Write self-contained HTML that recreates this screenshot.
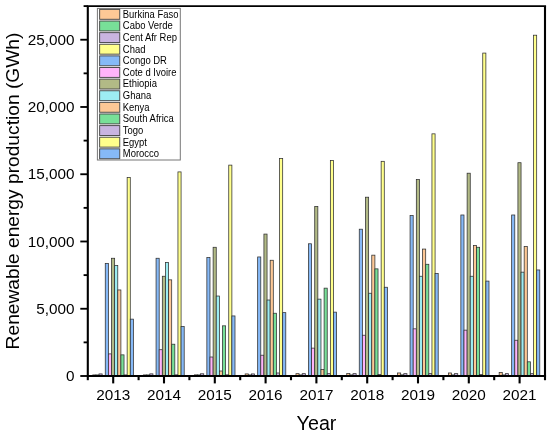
<!DOCTYPE html>
<html lang="en"><head><meta charset="utf-8"><title>Renewable energy production</title>
<style>html,body{margin:0;padding:0;background:#fff}body{width:550px;height:436px;overflow:hidden}svg{display:block}text{font-family:"Liberation Sans",Arial,Helvetica,sans-serif;fill:#000}</style></head><body>
<svg width="550" height="436" viewBox="0 0 550 436">
<rect width="550" height="436" fill="#fff"/>
<g stroke="#2e2e2e" stroke-width="0.75">
<rect x="92.76" y="374.93" width="3.13" height="1.07" fill="#FDC896"/>
<rect x="95.89" y="374.93" width="3.13" height="1.07" fill="#78DF98"/>
<rect x="99.01" y="373.92" width="3.13" height="2.08" fill="#C9B4E0"/>
<rect x="105.26" y="263.37" width="3.13" height="112.63" fill="#86B9F7"/>
<rect x="108.39" y="353.91" width="3.13" height="22.09" fill="#FFB4FA"/>
<rect x="111.52" y="258.26" width="3.13" height="117.74" fill="#B2BA86"/>
<rect x="114.64" y="265.58" width="3.13" height="110.42" fill="#9DEDF3"/>
<rect x="117.77" y="289.95" width="3.13" height="86.05" fill="#FDC896"/>
<rect x="120.9" y="354.86" width="3.13" height="21.14" fill="#78DF98"/>
<rect x="124.02" y="374.93" width="3.13" height="1.07" fill="#C9B4E0"/>
<rect x="127.15" y="177.42" width="3.13" height="198.58" fill="#FFFF8C"/>
<rect x="130.27" y="319.14" width="3.13" height="56.86" fill="#86B9F7"/>
<rect x="143.56" y="374.93" width="3.13" height="1.07" fill="#FDC896"/>
<rect x="146.69" y="374.93" width="3.13" height="1.07" fill="#78DF98"/>
<rect x="149.81" y="373.86" width="3.13" height="2.14" fill="#C9B4E0"/>
<rect x="156.06" y="258.26" width="3.13" height="117.74" fill="#86B9F7"/>
<rect x="159.19" y="349.72" width="3.13" height="26.28" fill="#FFB4FA"/>
<rect x="162.32" y="276.25" width="3.13" height="99.75" fill="#B2BA86"/>
<rect x="165.44" y="262.47" width="3.13" height="113.53" fill="#9DEDF3"/>
<rect x="168.57" y="279.85" width="3.13" height="96.15" fill="#FDC896"/>
<rect x="171.7" y="344.21" width="3.13" height="31.79" fill="#78DF98"/>
<rect x="174.82" y="374.86" width="3.13" height="1.14" fill="#C9B4E0"/>
<rect x="177.95" y="171.91" width="3.13" height="204.09" fill="#FFFF8C"/>
<rect x="181.07" y="326.43" width="3.13" height="49.57" fill="#86B9F7"/>
<rect x="194.36" y="374.86" width="3.13" height="1.14" fill="#FDC896"/>
<rect x="197.49" y="374.93" width="3.13" height="1.07" fill="#78DF98"/>
<rect x="200.61" y="373.79" width="3.13" height="2.21" fill="#C9B4E0"/>
<rect x="206.86" y="257.57" width="3.13" height="118.43" fill="#86B9F7"/>
<rect x="209.99" y="357.01" width="3.13" height="18.99" fill="#FFB4FA"/>
<rect x="213.12" y="247.27" width="3.13" height="128.73" fill="#B2BA86"/>
<rect x="216.24" y="296.04" width="3.13" height="79.96" fill="#9DEDF3"/>
<rect x="219.37" y="371" width="3.13" height="5" fill="#FDC896"/>
<rect x="222.5" y="325.83" width="3.13" height="50.17" fill="#78DF98"/>
<rect x="225.62" y="374.86" width="3.13" height="1.14" fill="#C9B4E0"/>
<rect x="228.75" y="165.12" width="3.13" height="210.88" fill="#FFFF8C"/>
<rect x="231.87" y="315.94" width="3.13" height="60.06" fill="#86B9F7"/>
<rect x="245.16" y="373.92" width="3.13" height="2.08" fill="#FDC896"/>
<rect x="248.29" y="374.93" width="3.13" height="1.07" fill="#78DF98"/>
<rect x="251.41" y="373.92" width="3.13" height="2.08" fill="#C9B4E0"/>
<rect x="257.66" y="256.96" width="3.13" height="119.04" fill="#86B9F7"/>
<rect x="260.79" y="355.21" width="3.13" height="20.79" fill="#FFB4FA"/>
<rect x="263.92" y="234.08" width="3.13" height="141.92" fill="#B2BA86"/>
<rect x="267.04" y="300.02" width="3.13" height="75.98" fill="#9DEDF3"/>
<rect x="270.17" y="260.26" width="3.13" height="115.74" fill="#FDC896"/>
<rect x="273.3" y="313.24" width="3.13" height="62.76" fill="#78DF98"/>
<rect x="276.42" y="372.98" width="3.13" height="3.02" fill="#C9B4E0"/>
<rect x="279.55" y="158.53" width="3.13" height="217.47" fill="#FFFF8C"/>
<rect x="282.67" y="312.64" width="3.13" height="63.36" fill="#86B9F7"/>
<rect x="295.96" y="373.66" width="3.13" height="2.34" fill="#FDC896"/>
<rect x="299.09" y="374.93" width="3.13" height="1.07" fill="#78DF98"/>
<rect x="302.21" y="373.66" width="3.13" height="2.34" fill="#C9B4E0"/>
<rect x="308.46" y="243.78" width="3.13" height="132.22" fill="#86B9F7"/>
<rect x="311.59" y="348.12" width="3.13" height="27.88" fill="#FFB4FA"/>
<rect x="314.72" y="206.4" width="3.13" height="169.6" fill="#B2BA86"/>
<rect x="317.84" y="299.14" width="3.13" height="76.86" fill="#9DEDF3"/>
<rect x="320.97" y="369.51" width="3.13" height="6.49" fill="#FDC896"/>
<rect x="324.1" y="288.15" width="3.13" height="87.85" fill="#78DF98"/>
<rect x="327.22" y="373.66" width="3.13" height="2.34" fill="#C9B4E0"/>
<rect x="330.35" y="160.53" width="3.13" height="215.47" fill="#FFFF8C"/>
<rect x="333.47" y="312.14" width="3.13" height="63.86" fill="#86B9F7"/>
<rect x="346.76" y="373.39" width="3.13" height="2.61" fill="#FDC896"/>
<rect x="349.89" y="374.93" width="3.13" height="1.07" fill="#78DF98"/>
<rect x="353.01" y="373.66" width="3.13" height="2.34" fill="#C9B4E0"/>
<rect x="359.26" y="229.2" width="3.13" height="146.8" fill="#86B9F7"/>
<rect x="362.39" y="335.22" width="3.13" height="40.78" fill="#FFB4FA"/>
<rect x="365.52" y="197.2" width="3.13" height="178.8" fill="#B2BA86"/>
<rect x="368.64" y="293.25" width="3.13" height="82.75" fill="#9DEDF3"/>
<rect x="371.77" y="255.16" width="3.13" height="120.84" fill="#FDC896"/>
<rect x="374.9" y="268.86" width="3.13" height="107.14" fill="#78DF98"/>
<rect x="378.02" y="374.6" width="3.13" height="1.4" fill="#C9B4E0"/>
<rect x="381.15" y="161.32" width="3.13" height="214.68" fill="#FFFF8C"/>
<rect x="384.27" y="287.25" width="3.13" height="88.75" fill="#86B9F7"/>
<rect x="397.56" y="372.98" width="3.13" height="3.02" fill="#FDC896"/>
<rect x="400.69" y="374.86" width="3.13" height="1.14" fill="#78DF98"/>
<rect x="403.81" y="373.66" width="3.13" height="2.34" fill="#C9B4E0"/>
<rect x="410.06" y="215.6" width="3.13" height="160.4" fill="#86B9F7"/>
<rect x="413.19" y="328.83" width="3.13" height="47.17" fill="#FFB4FA"/>
<rect x="416.32" y="179.62" width="3.13" height="196.38" fill="#B2BA86"/>
<rect x="419.44" y="276.25" width="3.13" height="99.75" fill="#9DEDF3"/>
<rect x="422.57" y="249.07" width="3.13" height="126.93" fill="#FDC896"/>
<rect x="425.7" y="264.27" width="3.13" height="111.73" fill="#78DF98"/>
<rect x="428.82" y="373.66" width="3.13" height="2.34" fill="#C9B4E0"/>
<rect x="431.95" y="133.84" width="3.13" height="242.16" fill="#FFFF8C"/>
<rect x="435.07" y="273.46" width="3.13" height="102.54" fill="#86B9F7"/>
<rect x="448.36" y="372.98" width="3.13" height="3.02" fill="#FDC896"/>
<rect x="451.49" y="374.93" width="3.13" height="1.07" fill="#78DF98"/>
<rect x="454.61" y="373.66" width="3.13" height="2.34" fill="#C9B4E0"/>
<rect x="460.86" y="214.99" width="3.13" height="161.01" fill="#86B9F7"/>
<rect x="463.99" y="330.13" width="3.13" height="45.87" fill="#FFB4FA"/>
<rect x="467.12" y="173.21" width="3.13" height="202.79" fill="#B2BA86"/>
<rect x="470.24" y="276.25" width="3.13" height="99.75" fill="#9DEDF3"/>
<rect x="473.37" y="245.47" width="3.13" height="130.53" fill="#FDC896"/>
<rect x="476.5" y="247.27" width="3.13" height="128.73" fill="#78DF98"/>
<rect x="479.62" y="374.6" width="3.13" height="1.4" fill="#C9B4E0"/>
<rect x="482.75" y="53.08" width="3.13" height="322.92" fill="#FFFF8C"/>
<rect x="485.87" y="281.09" width="3.13" height="94.91" fill="#86B9F7"/>
<rect x="499.16" y="372.38" width="3.13" height="3.62" fill="#FDC896"/>
<rect x="502.29" y="374.93" width="3.13" height="1.07" fill="#78DF98"/>
<rect x="505.41" y="373.66" width="3.13" height="2.34" fill="#C9B4E0"/>
<rect x="511.66" y="214.99" width="3.13" height="161.01" fill="#86B9F7"/>
<rect x="514.79" y="340.23" width="3.13" height="35.77" fill="#FFB4FA"/>
<rect x="517.92" y="162.71" width="3.13" height="213.29" fill="#B2BA86"/>
<rect x="521.04" y="272.16" width="3.13" height="103.84" fill="#9DEDF3"/>
<rect x="524.17" y="246.37" width="3.13" height="129.63" fill="#FDC896"/>
<rect x="527.3" y="361.81" width="3.13" height="14.19" fill="#78DF98"/>
<rect x="530.42" y="373.66" width="3.13" height="2.34" fill="#C9B4E0"/>
<rect x="533.55" y="35.2" width="3.13" height="340.8" fill="#FFFF8C"/>
<rect x="536.67" y="269.96" width="3.13" height="106.04" fill="#86B9F7"/>
</g>
<g stroke="#000" fill="none" stroke-linecap="butt">
<line x1="86.75" y1="6.1" x2="546.05" y2="6.1" stroke-width="1.85"/>
<line x1="86.75" y1="376" x2="546.05" y2="376" stroke-width="1.85"/>
<line x1="87.8" y1="6.1" x2="87.8" y2="376" stroke-width="2.1"/>
<line x1="545" y1="6.1" x2="545" y2="376" stroke-width="2.1"/>
<line x1="80.3" y1="376" x2="87.8" y2="376" stroke-width="1.85"/>
<line x1="83.6" y1="342.37" x2="87.8" y2="342.37" stroke-width="1.85"/>
<line x1="80.3" y1="308.75" x2="87.8" y2="308.75" stroke-width="1.85"/>
<line x1="83.6" y1="275.12" x2="87.8" y2="275.12" stroke-width="1.85"/>
<line x1="80.3" y1="241.49" x2="87.8" y2="241.49" stroke-width="1.85"/>
<line x1="83.6" y1="207.86" x2="87.8" y2="207.86" stroke-width="1.85"/>
<line x1="80.3" y1="174.24" x2="87.8" y2="174.24" stroke-width="1.85"/>
<line x1="83.6" y1="140.61" x2="87.8" y2="140.61" stroke-width="1.85"/>
<line x1="80.3" y1="106.98" x2="87.8" y2="106.98" stroke-width="1.85"/>
<line x1="83.6" y1="73.35" x2="87.8" y2="73.35" stroke-width="1.85"/>
<line x1="80.3" y1="39.73" x2="87.8" y2="39.73" stroke-width="1.85"/>
<line x1="83.6" y1="6.1" x2="87.8" y2="6.1" stroke-width="1.85"/>
<line x1="87.8" y1="376" x2="87.8" y2="380.2" stroke-width="2.1"/>
<line x1="113.2" y1="376" x2="113.2" y2="383.4" stroke-width="2.1"/>
<line x1="138.6" y1="376" x2="138.6" y2="380.2" stroke-width="2.1"/>
<line x1="164" y1="376" x2="164" y2="383.4" stroke-width="2.1"/>
<line x1="189.4" y1="376" x2="189.4" y2="380.2" stroke-width="2.1"/>
<line x1="214.8" y1="376" x2="214.8" y2="383.4" stroke-width="2.1"/>
<line x1="240.2" y1="376" x2="240.2" y2="380.2" stroke-width="2.1"/>
<line x1="265.6" y1="376" x2="265.6" y2="383.4" stroke-width="2.1"/>
<line x1="291" y1="376" x2="291" y2="380.2" stroke-width="2.1"/>
<line x1="316.4" y1="376" x2="316.4" y2="383.4" stroke-width="2.1"/>
<line x1="341.8" y1="376" x2="341.8" y2="380.2" stroke-width="2.1"/>
<line x1="367.2" y1="376" x2="367.2" y2="383.4" stroke-width="2.1"/>
<line x1="392.6" y1="376" x2="392.6" y2="380.2" stroke-width="2.1"/>
<line x1="418" y1="376" x2="418" y2="383.4" stroke-width="2.1"/>
<line x1="443.4" y1="376" x2="443.4" y2="380.2" stroke-width="2.1"/>
<line x1="468.8" y1="376" x2="468.8" y2="383.4" stroke-width="2.1"/>
<line x1="494.2" y1="376" x2="494.2" y2="380.2" stroke-width="2.1"/>
<line x1="519.6" y1="376" x2="519.6" y2="383.4" stroke-width="2.1"/>
<line x1="545" y1="376" x2="545" y2="380.2" stroke-width="2.1"/>
</g>
<g font-size="15.3" text-anchor="end">
<text x="74.5" y="381.1">0</text>
<text x="74.5" y="313.85">5,000</text>
<text x="74.5" y="246.59">10,000</text>
<text x="74.5" y="179.34">15,000</text>
<text x="74.5" y="112.08">20,000</text>
<text x="74.5" y="44.83">25,000</text>
</g>
<g font-size="15.3" text-anchor="middle">
<text x="113.2" y="400.3">2013</text>
<text x="164" y="400.3">2014</text>
<text x="214.8" y="400.3">2015</text>
<text x="265.6" y="400.3">2016</text>
<text x="316.4" y="400.3">2017</text>
<text x="367.2" y="400.3">2018</text>
<text x="418" y="400.3">2019</text>
<text x="468.8" y="400.3">2020</text>
<text x="519.6" y="400.3">2021</text>
</g>
<text x="316.5" y="429.6" font-size="19.7" text-anchor="middle">Year</text>
<text transform="translate(19.3 191.0) rotate(-90)" font-size="19.2" text-anchor="middle">Renewable energy production (GWh)</text>
<rect x="97.4" y="8.4" width="82.9" height="151.6" fill="#fff" stroke="#777" stroke-width="1"/>
<g stroke="#484848" stroke-width="0.95">
<rect x="99.65" y="9.4" width="20.1" height="9.9" fill="#FDC896"/>
<rect x="99.65" y="21.02" width="20.1" height="9.9" fill="#78DF98"/>
<rect x="99.65" y="32.64" width="20.1" height="9.9" fill="#C9B4E0"/>
<rect x="99.65" y="44.26" width="20.1" height="9.9" fill="#FFFF8C"/>
<rect x="99.65" y="55.88" width="20.1" height="9.9" fill="#86B9F7"/>
<rect x="99.65" y="67.5" width="20.1" height="9.9" fill="#FFB4FA"/>
<rect x="99.65" y="79.12" width="20.1" height="9.9" fill="#B2BA86"/>
<rect x="99.65" y="90.74" width="20.1" height="9.9" fill="#9DEDF3"/>
<rect x="99.65" y="102.36" width="20.1" height="9.9" fill="#FDC896"/>
<rect x="99.65" y="113.98" width="20.1" height="9.9" fill="#78DF98"/>
<rect x="99.65" y="125.6" width="20.1" height="9.9" fill="#C9B4E0"/>
<rect x="99.65" y="137.22" width="20.1" height="9.9" fill="#FFFF8C"/>
<rect x="99.65" y="148.84" width="20.1" height="9.9" fill="#86B9F7"/>
</g>
<g font-size="10.3" fill="#2a2a2a">
<text transform="translate(122.8 17.8) scale(0.92 1)">Burkina Faso</text>
<text transform="translate(122.8 29.41) scale(0.92 1)">Cabo Verde</text>
<text transform="translate(122.8 41.02) scale(0.92 1)">Cent Afr Rep</text>
<text transform="translate(122.8 52.63) scale(0.92 1)">Chad</text>
<text transform="translate(122.8 64.24) scale(0.92 1)">Congo DR</text>
<text transform="translate(122.8 75.85) scale(0.92 1)">Cote d Ivoire</text>
<text transform="translate(122.8 87.46) scale(0.92 1)">Ethiopia</text>
<text transform="translate(122.8 99.07) scale(0.92 1)">Ghana</text>
<text transform="translate(122.8 110.68) scale(0.92 1)">Kenya</text>
<text transform="translate(122.8 122.29) scale(0.92 1)">South Africa</text>
<text transform="translate(122.8 133.9) scale(0.92 1)">Togo</text>
<text transform="translate(122.8 145.51) scale(0.92 1)">Egypt</text>
<text transform="translate(122.8 157.12) scale(0.92 1)">Morocco</text>
</g>
</svg></body></html>
